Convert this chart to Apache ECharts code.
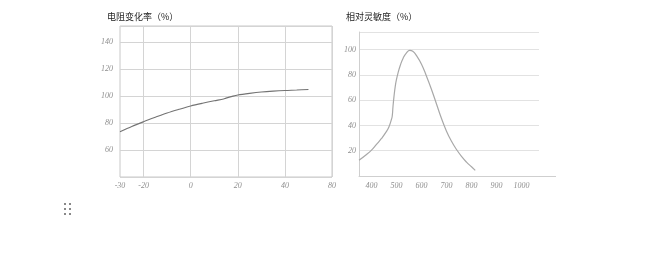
<!DOCTYPE html>
<html>
<head>
<meta charset="utf-8">
<script src="https://cdn.jsdelivr.net/npm/echarts@6/dist/echarts.min.js"></script>
<style>
html,body{margin:0;padding:0;background:#fff;}
#chart{width:650px;height:274px;}
</style>
</head>
<body>
<div id="chart"></div>
<script>
// Left chart: resistance change rate vs temperature
const leftTitle = '电阻变化率（%）';
const leftTemp = [-30, -25, -20, -15, -10, -5, 0, 5, 10, 14, 15, 18, 20, 25, 30, 35, 40, 45, 50];
const leftRate = [73.5, 77.5, 81, 84.3, 87.5, 90.2, 92.7, 94.7, 96.5, 97.8, 98.5, 100, 100.8, 102, 103, 103.7, 104.2, 104.5, 104.9];
const leftXTickValues = [-30, -20, 0, 20, 40, 60];
const leftXTickLabels = ['-30', '-20', '0', '20', '40', '80'];
const leftYTickValues = [60, 80, 100, 120, 140];

// Right chart: relative sensitivity vs wavelength
const rightTitle = '相对灵敏度（%）';
const rightWave = [350, 375, 400, 420, 440, 460, 470, 480, 483, 486, 490, 495, 500, 506, 515, 527, 540, 553, 565, 580, 600, 620, 640, 660, 680, 700, 720, 740, 760, 780, 800, 815];
const rightSens = [12.5, 16.3, 20.5, 25, 29.7, 35.3, 39, 45, 47.5, 55, 63, 71, 76.5, 81.5, 87.5, 93.5, 97.5, 99.5, 98.8, 95.3, 88.5, 79, 68.5, 57, 45.5, 35.5, 27.5, 21, 15.5, 11, 7.3, 4.5];
const rightXTickValues = [400, 500, 600, 700, 800, 900, 1000];
const rightYTickValues = [20, 40, 60, 80, 100];

const labelFont = {
  fontFamily: 'Liberation Serif', fontStyle: 'italic', fontSize: 8, color: '#8f8f8f'
};
const titleFont = {fontFamily: 'Noto Sans CJK SC', fontSize: 9, fontWeight: 'normal', color: '#222'};

const chart = echarts.init(document.getElementById('chart'), null, {renderer: 'canvas'});

chart.setOption({
  animation: false,
  backgroundColor: '#fff',
  title: [
    {text: leftTitle, left: 102, top: 7, textStyle: titleFont},
    {text: rightTitle, left: 341, top: 7, textStyle: titleFont}
  ],
  grid: [
    {left: 120, top: 26, width: 212, height: 151, show: true, borderColor: '#c8c8c8', borderWidth: 1, backgroundColor: 'transparent'},
    {left: 359, top: 32, width: 180, height: 144, show: false}
  ],
  xAxis: [
    {
      gridIndex: 0, type: 'value', min: -30, max: 60, interval: 10,
      axisLine: {show: false}, axisTick: {show: false},
      splitLine: {show: true, lineStyle: {color: ['transparent', '#d4d4d4'], width: 1}},
      axisLabel: Object.assign({}, labelFont, {
        margin: 5, showMinLabel: true, showMaxLabel: true,
        formatter: v => { const i = leftXTickValues.indexOf(v); return i >= 0 ? leftXTickLabels[i] : ''; }
      })
    },
    {
      gridIndex: 1, type: 'value', min: 350, max: 1070, interval: 50,
      axisLine: {show: true, lineStyle: {color: '#cfcfcf', width: 1}}, axisTick: {show: false},
      splitLine: {show: false},
      axisLabel: Object.assign({}, labelFont, {
        margin: 6, showMaxLabel: false,
        formatter: v => rightXTickValues.indexOf(v) >= 0 ? String(v) : ''
      })
    }
  ],
  yAxis: [
    {
      gridIndex: 0, type: 'value', min: 40, max: 152, interval: 20,
      axisLine: {show: false}, axisTick: {show: false},
      splitLine: {show: true, lineStyle: {color: '#d4d4d4', width: 1}},
      axisLabel: Object.assign({}, labelFont, {
        margin: 7, showMaxLabel: false,
        formatter: v => leftYTickValues.indexOf(v) >= 0 ? String(v) : ''
      })
    },
    {
      gridIndex: 1, type: 'value', min: 0, max: 114, interval: 20,
      axisLine: {show: true, lineStyle: {color: '#cfcfcf', width: 1}}, axisTick: {show: false},
      splitLine: {show: true, lineStyle: {color: '#e2e2e2', width: 1}},
      axisLabel: Object.assign({}, labelFont, {
        margin: 3, showMaxLabel: false,
        formatter: v => rightYTickValues.indexOf(v) >= 0 ? String(v) : ''
      })
    }
  ],
  series: [
    {
      type: 'line', xAxisIndex: 0, yAxisIndex: 0, smooth: 0.3, showSymbol: false,
      lineStyle: {color: '#737373', width: 1.1},
      data: leftTemp.map((t, i) => [t, leftRate[i]])
    },
    {
      type: 'line', xAxisIndex: 1, yAxisIndex: 1, smooth: 0.5, showSymbol: false,
      lineStyle: {color: '#a8a8a8', width: 1.2},
      data: rightWave.map((w, i) => [w, rightSens[i]])
    }
  ],
  graphic: [
    {type: 'line', shape: {x1: 539, y1: 176.5, x2: 556, y2: 176.5}, style: {stroke: '#cfcfcf', lineWidth: 1}},
    {type: 'rect', shape: {x: 64, y: 203, width: 2, height: 2}, style: {fill: '#888'}},
    {type: 'rect', shape: {x: 69, y: 203, width: 2, height: 2}, style: {fill: '#888'}},
    {type: 'rect', shape: {x: 64, y: 208, width: 2, height: 2}, style: {fill: '#888'}},
    {type: 'rect', shape: {x: 69, y: 208, width: 2, height: 2}, style: {fill: '#888'}},
    {type: 'rect', shape: {x: 64, y: 213, width: 2, height: 2}, style: {fill: '#888'}},
    {type: 'rect', shape: {x: 69, y: 213, width: 2, height: 2}, style: {fill: '#888'}}
  ]
});
</script>
</body>
</html>
